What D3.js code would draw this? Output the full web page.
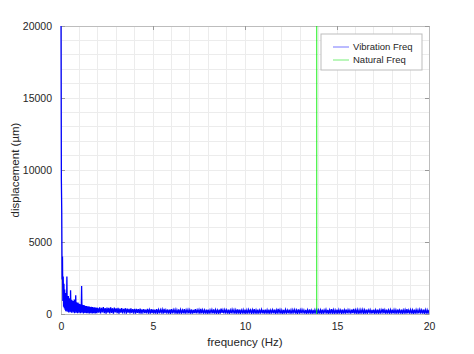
<!DOCTYPE html>
<meta charset="utf-8">
<head>
    <title>Spectrum</title>
</head>
<style>
body { margin: 0; background: #fff; }
svg { font-family: "Liberation Sans", Arial, sans-serif; }
.grid line { stroke: #ececec; stroke-width: 1; shape-rendering: crispEdges; }
.axis-label { font-size: 11.5px; fill: #262626; }
.legend text { font-size: 9.5px; fill: #262626; }
</style>
<body>
<script src="https://cdn.jsdelivr.net/npm/d3@7"></script>
<script>

// x ticks (Hz) and y ticks (um)
var xTicks = [0, 5, 10, 15, 20];
var yTicks = [0, 5000, 10000, 15000, 20000];

// natural frequency marker
var naturalFreq = 13.9;

// low band: 0 .. 2 Hz, step 0.02 Hz
var lowStep = 0.02;
var lowVals = [
  21000, 9300, 7200, 2400, 4000, 900, 2600, 500, 2100, 400,
  1700, 300, 1450, 200, 1300, 250, 2600, 150, 1200, 300,
  1250, 100, 1100, 250, 1050, 120, 1650, 200, 980, 80,
  950, 220, 900, 100, 880, 180, 1000, 60, 900, 200,
  1300, 90, 820, 150, 760, 50, 800, 170, 720, 80,
  700, 140, 680, 60, 650, 120, 1950, 90, 640, 150,
  600, 40, 620, 130, 580, 70, 560, 150, 540, 50,
  560, 110, 520, 60, 500, 140, 530, 40, 490, 100,
  470, 60, 500, 120, 460, 30, 480, 90, 450, 50,
  440, 110, 470, 40, 430, 80, 420, 60, 450, 100,
  410
];

// high band: 2.05 .. 20 Hz, step 0.05 Hz
var highStart = 2.05, highStep = 0.05;
var highVals = [
  90, 460, 40, 430, 120, 480, 60, 410, 30, 450, 100, 420, 50, 470, 80, 400, 20, 440, 110, 390,
  60, 420, 30, 380, 100, 410, 50, 360, 140, 400, 20, 370, 90, 350, 40, 390, 70, 340, 110, 360,
  30, 350, 80, 330, 50, 370, 20, 320, 100, 340, 60, 310, 40, 360, 90, 300, 30, 330, 70, 320,
  50, 310, 20, 340, 80, 300, 40, 290, 110, 320, 30, 350, 60, 280, 90, 310, 20, 300, 70, 330,
  40, 290, 100, 310, 30, 280, 60, 320, 20, 300, 80, 270, 50, 340, 30, 290, 90, 300, 40, 280,
  70, 310, 20, 290, 60, 330, 40, 280, 100, 300, 30, 360, 50, 290, 80, 270, 20, 310, 60, 300,
  30, 280, 90, 300, 40, 320, 20, 290, 70, 270, 50, 310, 30, 380, 80, 290, 40, 300, 100, 280,
  20, 300, 60, 270, 40, 310, 90, 290, 30, 280, 70, 320, 20, 300, 50, 270, 80, 290, 30, 310,
  60, 280, 20, 300, 100, 270, 40, 290, 70, 340, 30, 280, 50, 300, 20, 270, 90, 310, 40, 290,
  30, 300, 70, 280, 20, 310, 50, 270, 90, 290, 40, 300, 60, 280, 20, 350, 80, 290, 30, 270,
  50, 290, 20, 300, 80, 270, 40, 310, 60, 280, 30, 290, 100, 300, 20, 270, 50, 320, 70, 280,
  40, 300, 90, 270, 20, 290, 60, 280, 30, 310, 70, 260, 40, 290, 20, 280, 80, 300, 50, 270,
  20, 280, 60, 300, 40, 270, 90, 310, 30, 290, 50, 280, 20, 340, 70, 290, 40, 270, 60, 300,
  30, 290, 80, 270, 50, 300, 20, 280, 70, 310, 40, 290, 90, 270, 30, 300, 60, 360, 20, 280,
  70, 300, 40, 270, 20, 290, 80, 310, 50, 280, 30, 300, 60, 270, 100, 290, 20, 280, 40, 310,
  50, 280, 30, 300, 70, 270, 20, 290, 90, 350, 40, 280, 60, 300, 30, 270, 80, 290, 20, 300,
  40, 290, 60, 280, 20, 310, 90, 270, 30, 300, 50, 280, 70, 290, 20, 330, 40, 270, 80, 300,
  30, 280, 50, 300, 20, 290, 70, 270, 40, 310, 90, 280, 20, 300, 60, 290, 30, 280, 50, 290
];

var legendNames = ["Vibration Freq", "Natural Freq"];
var legendColors = ["#0000ff", "#00ee00"];

var W = 474, H = 354;
var margin = {top: 26, right: 45, bottom: 40, left: 61},
    width = W - margin.left - margin.right,
    height = H - margin.top - margin.bottom;

var data = [];
lowVals.forEach(function(v, i) { data.push({f: i * lowStep, v: v}); });
highVals.forEach(function(v, i) { data.push({f: highStart + i * highStep, v: v}); });

var x = d3.scaleLinear().domain([0, 20]).range([0, width]);
var y = d3.scaleLinear().domain([0, 20000]).range([height, 0]);

var svg = d3.select("body").append("svg")
    .attr("width", W)
    .attr("height", H);

var g = svg.append("g")
    .attr("transform", "translate(" + margin.left + "," + margin.top + ")");

g.append("clipPath").attr("id", "clip")
  .append("rect").attr("x", -1).attr("width", width + 1).attr("height", height);

// minor + major grid
var grid = g.append("g").attr("class", "grid");
grid.selectAll(".gx").data(d3.range(1, 20))
  .enter().append("line")
    .attr("x1", function(d) { return x(d); })
    .attr("x2", function(d) { return x(d); })
    .attr("y1", 0).attr("y2", height);
grid.selectAll(".gy").data(d3.range(1000, 20000, 1000))
  .enter().append("line")
    .attr("y1", function(d) { return y(d); })
    .attr("y2", function(d) { return y(d); })
    .attr("x1", 0).attr("x2", width);

// axes: box + inward ticks on all sides
function axisStyle(sel) {
  sel.select(".domain").attr("stroke", "#bdbdbd");
  sel.selectAll(".tick line").attr("stroke", "#9a9a9a");
  sel.selectAll(".tick text").attr("fill", "#262626")
     .style("font-size", "10.5px").style("font-family", "Liberation Sans, Arial, sans-serif");
}

var fmt = d3.format("d");

g.append("g")
    .attr("transform", "translate(0," + height + ")")
    .call(d3.axisBottom(x).tickValues(xTicks).tickFormat(fmt).tickSizeInner(-4).tickSizeOuter(0).tickPadding(9))
    .call(axisStyle);
g.append("g")
    .call(d3.axisTop(x).tickValues(xTicks).tickSizeInner(-4).tickSizeOuter(0).tickFormat(""))
    .call(axisStyle);
g.append("g")
    .call(d3.axisLeft(y).tickValues(yTicks).tickFormat(fmt).tickSizeInner(-4).tickSizeOuter(0).tickPadding(9))
    .call(axisStyle);
g.append("g")
    .attr("transform", "translate(" + width + ",0)")
    .call(d3.axisRight(y).tickValues(yTicks).tickSizeInner(-4).tickSizeOuter(0).tickFormat(""))
    .call(axisStyle);

var line = d3.line()
    .x(function(d) { return x(d.f); })
    .y(function(d) { return y(d.v); });

g.append("path")
    .datum(data)
    .attr("clip-path", "url(#clip)")
    .attr("fill", "none")
    .attr("stroke", legendColors[0])
    .attr("stroke-width", 1.3)
    .attr("d", line);

g.append("line")
    .attr("x1", x(naturalFreq)).attr("x2", x(naturalFreq))
    .attr("y1", 0).attr("y2", height)
    .attr("stroke", legendColors[1])
    .attr("stroke-width", 0.9);

// axis labels
svg.append("text")
    .attr("class", "axis-label")
    .attr("x", margin.left + width / 2)
    .attr("y", 346)
    .attr("text-anchor", "middle")
    .text("frequency (Hz)");

svg.append("text")
    .attr("class", "axis-label")
    .attr("transform", "translate(19," + (margin.top + height / 2) + ") rotate(-90)")
    .attr("text-anchor", "middle")
    .text("displacement (µm)");

// legend
var lg = svg.append("g").attr("class", "legend");
lg.append("rect")
    .attr("x", 321).attr("y", 34)
    .attr("width", 101).attr("height", 36)
    .attr("fill", "#fff")
    .attr("stroke", "#bdbdbd");

var items = lg.selectAll(".item").data(legendNames)
  .enter().append("g")
    .attr("transform", function(d, i) { return "translate(0," + (47 + i * 13) + ")"; });

items.append("line")
    .attr("x1", 333).attr("x2", 349)
    .attr("stroke", function(d, i) { return i === 0 ? "#7777ff" : "#77ee77"; })
    .attr("stroke-width", 1);

items.append("text")
    .attr("x", 353)
    .attr("dy", "0.35em")
    .text(function(d) { return d; });

</script>
</body>
